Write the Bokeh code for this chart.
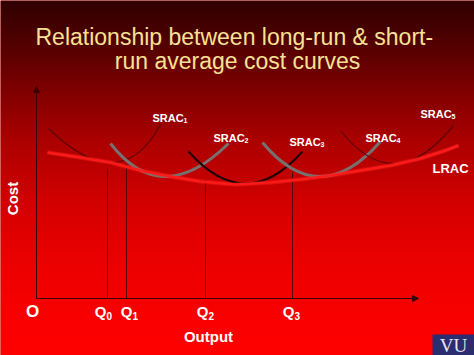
import numpy as np
from bokeh.plotting import figure
from bokeh.models import Range1d, Label, Arrow, NormalHead
from bokeh.embed import file_html
from bokeh.resources import INLINE
from bokeh.core.properties import value

# ---------------- data (x: output, y: cost; origin at O) ----------------
q_main = ["Q", "Q", "Q", "Q"]
q_subs = ["0", "1", "2", "3"]
q_pos = [71, 90, 169, 256]          # output levels Q0..Q3
q_top = [130, 134, 118, 126]        # height of the dropped lines

srac_subs = ["1", "2", "3", "4", "5"]
srac_x0 = [12, 74, 152, 226, 304]   # start of each SRAC curve
srac_y0 = [170, 155, 147, 156, 168]
srac_xm = [76, 129, 209, 284, 359]  # minimum point of each SRAC curve
srac_ym = [136, 122, 115, 122, 135]
srac_x1 = [124, 192, 266, 344, 417] # end of each SRAC curve
srac_y1 = [174, 155, 147, 157, 173]

lrac_x = [11, 44, 74, 104, 134, 164, 199, 234, 264, 294, 324, 354, 384, 409, 422]
lrac_y = [146, 141, 136, 128, 122, 117, 114, 116, 119, 123, 128, 133, 140, 148, 153]

title_lines = ["Relationship between  long-run & short-", "run average cost curves"]

# ---------------- figure ----------------
W, H = 474, 355
X0, Y0 = -36, -57
p = figure(width=W, height=H, x_range=Range1d(X0, X0 + W), y_range=Range1d(Y0, Y0 + H),
           min_border=0, toolbar_location=None, output_backend="svg",
           x_axis_type=None, y_axis_type=None)
p.outline_line_color = None
p.background_fill_color = "#c00000"
p.border_fill_color = "#c00000"
p.xgrid.visible = False
p.ygrid.visible = False

# background vertical gradient (style only)
stop_py = [0, 45, 90, 140, 200, 260, 320, 355]
stop_r = [48, 85, 128, 172, 210, 235, 250, 255]
rows = np.arange(H)
red = np.interp(H - 1 - rows, stop_py, stop_r).astype(np.uint8)
img = np.zeros((H, 2), dtype=np.uint32)
view = img.view(dtype=np.uint8).reshape((H, 2, 4))
view[:, :, 0] = red[:, None]
view[:, :, 1] = 0
view[:, :, 2] = 0
view[:, :, 3] = 255
p.image_rgba(image=[img], x=X0, y=Y0, dw=W, dh=H)

FONT = value("Liberation Sans")

# title
for line, base in zip(title_lines, [262, 238]):
    p.add_layout(Label(x=201, y=base, text=line, text_align="center", text_baseline="alphabetic",
                       text_font="Liberation Sans", text_font_size="23px", text_color="#f8e294"))

# axes with arrows
p.add_layout(Arrow(end=NormalHead(size=6, fill_color="#3a0000", line_color="#3a0000"),
                   x_start=0, y_start=0, x_end=382, y_end=0, line_color="#3a0000", line_width=1))
p.add_layout(Arrow(end=NormalHead(size=6, fill_color="#3a0000", line_color="#3a0000"),
                   x_start=0, y_start=0, x_end=0, y_end=212, line_color="#3a0000", line_width=1))

# dropped lines at Q levels
p.segment(x0=q_pos, y0=[0] * len(q_pos), x1=q_pos, y1=q_top, line_color="#5a0000", line_width=1)

# SRAC curves as quadratic curves through start, minimum, end
cx = [2 * m - (a + b) / 2 for a, m, b in zip(srac_x0, srac_xm, srac_x1)]
cy = [2 * m - (a + b) / 2 for a, m, b in zip(srac_y0, srac_ym, srac_y1)]
styles = [("#5c0505", 1.2), ("#777070", 3), ("#1e0000", 2), ("#777070", 3), ("#5c0505", 1.2)]
for i, (col, lw) in enumerate(styles):
    p.quadratic(x0=[srac_x0[i]], y0=[srac_y0[i]], x1=[srac_x1[i]], y1=[srac_y1[i]],
                cx=[cx[i]], cy=[cy[i]], line_color=col, line_width=lw)

# LRAC
p.line(lrac_x, lrac_y, line_color="#ff3030", line_width=4.5, line_alpha=0.3)
p.line(lrac_x, lrac_y, line_color="#ff1a1a", line_width=2.6)

# SRAC labels
lab_x = [116, 177, 253, 329, 384]
lab_y = [181, 161, 157, 161, 185]
p.text(x=lab_x, y=lab_y, text=["SRAC"] * 5, text_font=FONT, text_font_style="bold",
       text_font_size="11px", text_color="white", text_align="left", text_baseline="middle")
p.text(x=lab_x, y=lab_y, text=srac_subs, text_font=FONT, text_font_style="bold",
       text_font_size="7px", text_color="white", text_align="left", text_baseline="middle",
       x_offset=31, y_offset=3)

p.text(x=[396], y=[130], text=["LRAC"], text_font=FONT, text_font_style="bold",
       text_font_size="13px", text_color="white", text_align="left", text_baseline="middle")

# Q labels
q_dx = [-4, 3, 0, -1]
qx = [q + d - 3 for q, d in zip(q_pos, q_dx)]
p.text(x=qx, y=[-13] * 4, text=q_main, text_font=FONT, text_font_style="bold",
       text_font_size="15px", text_color="white", text_align="center", text_baseline="middle")
p.text(x=qx, y=[-13] * 4, text=q_subs, text_font=FONT, text_font_style="bold",
       text_font_size="10px", text_color="white", text_align="left", text_baseline="middle",
       x_offset=6, y_offset=4)

p.text(x=[-4], y=[-13], text=["O"], text_font=FONT, text_font_style="bold",
       text_font_size="17px", text_color="white", text_align="center", text_baseline="middle")
p.text(x=[172], y=[-38], text=["Output"], text_font=FONT, text_font_style="bold",
       text_font_size="15px", text_color="white", text_align="center", text_baseline="middle")
p.text(x=[-24], y=[100], text=["Cost"], text_font=FONT, text_font_style="bold",
       text_font_size="15px", text_color="white", text_align="center", text_baseline="middle",
       angle=np.pi / 2)

# VU logo
p.quad(left=[396], right=[438], bottom=[-57], top=[-36], fill_color="#2c2c70", line_color=None)
p.text(x=[417], y=[-47], text=["VU"], text_font=value("Liberation Serif"),
       text_font_size="19px", text_color="#e6e6f5", text_align="center", text_baseline="middle")

open("out.html", "w").write(file_html(p, INLINE))
